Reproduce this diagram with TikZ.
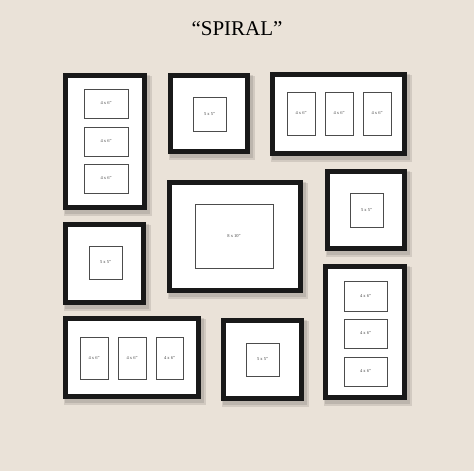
\documentclass[tikz,border=0pt]{standalone}
\usepackage{fontspec}
\setmainfont{Liberation Serif}
\definecolor{wall}{RGB}{234,226,216}
\tikzset{
  shade/.style={fill=black, opacity=0.10},
  frame/.style={fill=black!90},
  mat/.style={fill=white},
  window/.style={draw=black!70, line width=0.9pt, fill=white, inner sep=0pt, outer sep=0pt,
    anchor=north west, font=\fontsize{4.5}{5}\selectfont, text=black!75},
}
% frame with mat: x1,y1,x2,y2
\newcommand{\photoframe}[4]{%
  \fill[shade] (#1+1,#2+3) rectangle (#3+5,#4+6);
  \fill[shade] (#1+2,#2+2) rectangle (#3+3,#4+4);
  \fill[frame] (#1,#2) rectangle (#3,#4);
  \fill[mat] (#1+5,#2+5) rectangle (#3-5,#4-5);}
% opening in the mat: name, x, y, width, height, text
\newcommand{\opening}[6]{%
  \node[window, minimum width=#4pt, minimum height=#5pt] (#1) at (#2,#3) {#6};}

\begin{document}
\begin{tikzpicture}[x=1pt,y=-1pt]
\fill[wall] (0,0) rectangle (474,471);
\useasboundingbox (0,0) rectangle (474,471);

\node[font=\fontsize{21}{24}\selectfont] (title) at (237,29) {“SPIRAL”};

% top row
\photoframe{63}{73}{147}{210}
\opening{a1}{84}{89}{44}{29}{4 x 6"}
\opening{a2}{84}{127}{44}{29}{4 x 6"}
\opening{a3}{84}{164}{44}{29}{4 x 6"}

\photoframe{168}{73}{250}{154}
\opening{b1}{193}{97}{33}{34}{5 x 5"}

\photoframe{270}{72}{407}{156}
\opening{c1}{287}{92}{28}{43}{4 x 6"}
\opening{c2}{325}{92}{28}{43}{4 x 6"}
\opening{c3}{363}{92}{28}{43}{4 x 6"}

% middle
\photoframe{167}{180}{303}{293}
\opening{d1}{195}{204}{78}{64}{8 x 10"}

\photoframe{63}{222}{146}{305}
\opening{e1}{89}{246}{33}{33}{5 x 5"}

\photoframe{325}{169}{407}{251}
\opening{f1}{350}{193}{33}{34}{5 x 5"}

% bottom row
\photoframe{63}{316}{201}{399}
\opening{g1}{80}{337}{28}{42}{4 x 6"}
\opening{g2}{118}{337}{28}{42}{4 x 6"}
\opening{g3}{156}{337}{27}{42}{4 x 6"}

\photoframe{221}{318}{304}{401}
\opening{h1}{246}{343}{33}{33}{5 x 5"}

\photoframe{323}{264}{407}{400}
\opening{k1}{344}{281}{43}{30}{4 x 6"}
\opening{k2}{344}{319}{43}{29}{4 x 6"}
\opening{k3}{344}{357}{43}{29}{4 x 6"}
\end{tikzpicture}
\end{document}
